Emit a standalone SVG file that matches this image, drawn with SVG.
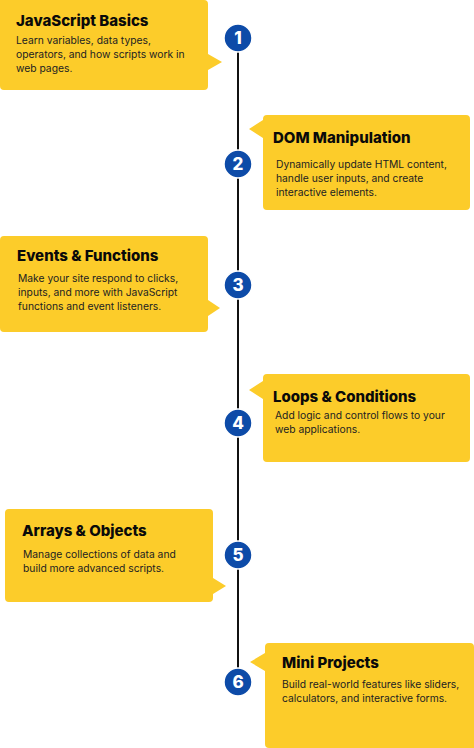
<svg xmlns="http://www.w3.org/2000/svg" width="474" height="748" viewBox="0 0 474 748">
<style>
.card{fill:#FCCC2A}
.title{font-family:Inter,"Noto Sans",sans-serif;font-weight:800;font-size:15px;fill:#0a0a0a}
.body{font-family:Inter,"Noto Sans",sans-serif;font-size:10.3px;fill:#222}
.dot{fill:#0D4BA8;stroke:#fff;stroke-width:1.5}
.num{font-family:Inter,"Noto Sans",sans-serif;font-weight:800;font-size:17px;fill:#fff;text-anchor:middle}
</style>
<rect width="474" height="748" fill="#fff"/>
<g id="connectors">
<line x1="238" y1="38" x2="238" y2="682" stroke="#111" stroke-width="2"/>
</g>
<g id="step1">
<path class="card" d="M0 0 H204 a4 4 0 0 1 4 4 V54 L222 62 L208 70 V86 a4 4 0 0 1 -4 4 H4 a4 4 0 0 1 -4 -4 Z"/>
<text class="title" x="16" y="26">JavaScript Basics</text>
<text class="body" x="16" y="44">Learn variables, data types,</text>
<text class="body" x="16" y="58">operators, and how scripts work in</text>
<text class="body" x="16" y="72">web pages.</text>
</g>
<g id="step2">
<path class="card" d="M267 115 H466 a4 4 0 0 1 4 4 V206 a4 4 0 0 1 -4 4 H267 a4 4 0 0 1 -4 -4 V138 L249 129 L263 120 V119 a4 4 0 0 1 4 -4 Z"/>
<text class="title" x="273" y="143">DOM Manipulation</text>
<text class="body" x="276" y="168">Dynamically update HTML content,</text>
<text class="body" x="276" y="182">handle user inputs, and create</text>
<text class="body" x="276" y="196">interactive elements.</text>
</g>
<g id="step3">
<path class="card" d="M4 236 H204 a4 4 0 0 1 4 4 V300 L220 308 L208 316 V328 a4 4 0 0 1 -4 4 H4 a4 4 0 0 1 -4 -4 V240 a4 4 0 0 1 4 -4 Z"/>
<text class="title" x="17" y="261">Events &amp; Functions</text>
<text class="body" x="18" y="282">Make your site respond to clicks,</text>
<text class="body" x="18" y="296">inputs, and more with JavaScript</text>
<text class="body" x="18" y="310">functions and event listeners.</text>
</g>
<g id="step4">
<path class="card" d="M267 374 H466 a4 4 0 0 1 4 4 V458 a4 4 0 0 1 -4 4 H267 a4 4 0 0 1 -4 -4 V399 L249 390 L263 381 V378 a4 4 0 0 1 4 -4 Z"/>
<text class="title" x="273" y="402">Loops &amp; Conditions</text>
<text class="body" x="275" y="419">Add logic and control flows to your</text>
<text class="body" x="275" y="433">web applications.</text>
</g>
<g id="step5">
<path class="card" d="M9 509 H209 a4 4 0 0 1 4 4 V578 L226 586 L213 594 V598 a4 4 0 0 1 -4 4 H9 a4 4 0 0 1 -4 -4 V513 a4 4 0 0 1 4 -4 Z"/>
<text class="title" x="22" y="536">Arrays &amp; Objects</text>
<text class="body" x="23" y="558">Manage collections of data and</text>
<text class="body" x="23" y="572">build more advanced scripts.</text>
</g>
<g id="step6">
<path class="card" d="M269 643 H470 a4 4 0 0 1 4 4 V748 H269 a4 4 0 0 1 -4 -4 V671 L250 662 L265 653 V647 a4 4 0 0 1 4 -4 Z"/>
<text class="title" x="282" y="668">Mini Projects</text>
<text class="body" x="282" y="688">Build real-world features like sliders,</text>
<text class="body" x="282" y="702">calculators, and interactive forms.</text>
</g>
<g id="dots">
<circle class="dot" cx="238" cy="38" r="14"/><text class="num" x="238" y="44">1</text>
<circle class="dot" cx="238" cy="164" r="14"/><text class="num" x="238" y="170">2</text>
<circle class="dot" cx="238" cy="285" r="14"/><text class="num" x="238" y="291">3</text>
<circle class="dot" cx="238" cy="423" r="14"/><text class="num" x="238" y="429">4</text>
<circle class="dot" cx="238" cy="555" r="14"/><text class="num" x="238" y="561">5</text>
<circle class="dot" cx="238" cy="682" r="14"/><text class="num" x="238" y="688">6</text>
</g>
</svg>
